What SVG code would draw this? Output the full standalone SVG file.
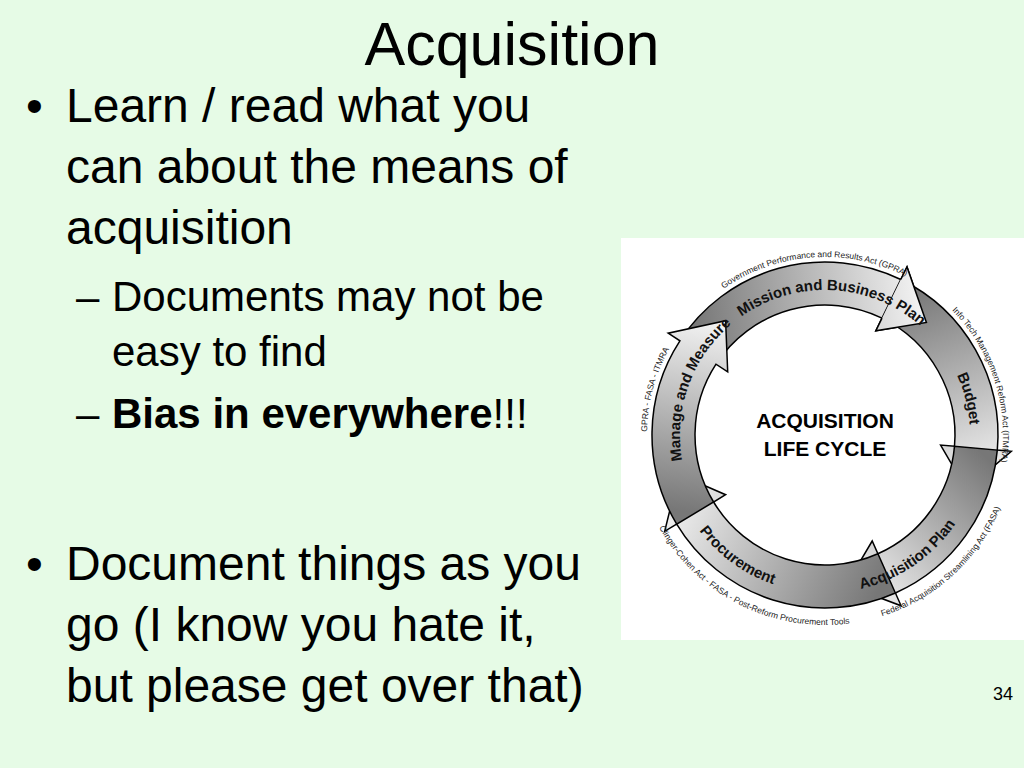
<svg xmlns="http://www.w3.org/2000/svg" xmlns:xlink="http://www.w3.org/1999/xlink" width="1024" height="768" viewBox="0 0 1024 768">
<style>
.t{font-family:"Liberation Sans",Arial,sans-serif;fill:#000}
.arr{stroke:#000;stroke-width:1.5;stroke-linejoin:miter}
.lb{font-family:"Liberation Sans",Arial,sans-serif;font-weight:bold;font-size:15px;fill:#111}
.sm{font-family:"Liberation Sans",Arial,sans-serif;font-size:8.5px;fill:#222}
</style>
<defs>
<linearGradient id="g1" gradientUnits="userSpaceOnUse" x1="697.9" y1="352.5" x2="926.4" y2="322.4"><stop offset="0" stop-color="#777"/><stop offset="1" stop-color="#f4f4f4"/></linearGradient>
<linearGradient id="g2" gradientUnits="userSpaceOnUse" x1="891.4" y1="298.8" x2="966.4" y2="489.3"><stop offset="0" stop-color="#777"/><stop offset="1" stop-color="#f4f4f4"/></linearGradient>
<linearGradient id="g3" gradientUnits="userSpaceOnUse" x1="975.9" y1="448.2" x2="846.1" y2="585"><stop offset="0" stop-color="#777"/><stop offset="1" stop-color="#f4f4f4"/></linearGradient>
<linearGradient id="g4" gradientUnits="userSpaceOnUse" x1="886.6" y1="573.4" x2="678.7" y2="474.2"><stop offset="0" stop-color="#777"/><stop offset="1" stop-color="#f4f4f4"/></linearGradient>
<linearGradient id="g5" gradientUnits="userSpaceOnUse" x1="695.1" y1="513" x2="725.6" y2="320.7"><stop offset="0" stop-color="#777"/><stop offset="1" stop-color="#f4f4f4"/></linearGradient>
<path id="cw145" d="M825,580 A145,145 0 1 1 825,290 A145,145 0 1 1 825,580"/>
<path id="ccw158" d="M667,435 A158,158 0 1 0 983,435 A158,158 0 1 0 667,435"/>
<path id="cw178" d="M825,613 A178,178 0 1 1 825,257 A178,178 0 1 1 825,613"/>
<path id="ccw190" d="M635,435 A190,190 0 1 0 1015,435 A190,190 0 1 0 635,435"/>
</defs>
<rect width="1024" height="768" fill="#e6fbe6"/>
<g id="slide-text">
<text class="t" x="512" y="65" font-size="61" text-anchor="middle">Acquisition</text>
<text class="t" font-size="48"><tspan x="26" y="122">•</tspan><tspan x="66" y="122">Learn / read what you</tspan><tspan x="66" y="183">can about the means of</tspan><tspan x="66" y="244">acquisition</tspan></text>
<text class="t" font-size="42"><tspan x="76" y="311">–</tspan><tspan x="112" y="311">Documents may not be</tspan><tspan x="112" y="366">easy to find</tspan><tspan x="76" y="428">–</tspan><tspan x="112" y="428" font-weight="bold">Bias in everywhere</tspan><tspan>!!!</tspan></text>
<text class="t" font-size="48"><tspan x="26" y="580">•</tspan><tspan x="66" y="580">Document things as you</tspan><tspan x="66" y="641">go (I know you hate it,</tspan><tspan x="66" y="702">but please get over that)</tspan></text>
<text class="t" x="1003" y="700" font-size="18" text-anchor="middle">34</text>
</g>
<g id="cycle">
<rect x="621" y="238" width="403" height="402" fill="#fff"/>
<g id="connectors">
<path class="arr" fill="url(#g1)" d="M679.9,340.8 A173,173 0 0 1 900.8,279.5 L907,266.9 L926.4,322.4 L875.9,330.7 L882,318.2 A130,130 0 0 0 716,364.2 Z"/>
<path class="arr" fill="url(#g2)" d="M900.8,279.5 A173,173 0 0 1 997.3,450.1 L1011.3,451.3 L966.4,489.3 L940.6,445.1 L954.5,446.3 A130,130 0 0 0 882,318.2 Z"/>
<path class="arr" fill="url(#g3)" d="M997.3,450.1 A173,173 0 0 1 895.4,593 L901.1,605.8 L846.1,585 L872.2,541 L877.9,553.8 A130,130 0 0 0 954.5,446.3 Z"/>
<path class="arr" fill="url(#g4)" d="M895.4,593 A173,173 0 0 1 676.7,524.1 L664.7,531.3 L678.7,474.2 L725.6,494.7 L713.6,502 A130,130 0 0 0 877.9,553.8 Z"/>
<path class="arr" fill="url(#g5)" d="M676.7,524.1 A173,173 0 0 1 679.9,340.8 L668.2,333.2 L725.6,320.7 L727.7,371.8 L716,364.2 A130,130 0 0 0 713.6,502 Z"/>
<path fill="url(#g1)" d="M900.8,279.5 L907,266.9 L926.4,322.4 L875.9,330.7 L882,318.2 Z"/>
<path class="arr" fill="none" d="M900.8,279.5 L907,266.9 L926.4,322.4 L875.9,330.7 L882,318.2"/>
</g>
<g id="labels">
<text class="lb"><textPath href="#cw145" xlink:href="#cw145" startOffset="463" text-anchor="middle">Mission and Business Plan</textPath></text>
<text class="lb"><textPath href="#cw145" xlink:href="#cw145" startOffset="647" text-anchor="middle">Budget</textPath></text>
<text class="lb"><textPath href="#cw145" xlink:href="#cw145" startOffset="278" text-anchor="middle">Manage and Measure</textPath></text>
<text class="lb"><textPath href="#ccw158" xlink:href="#ccw158" startOffset="343" text-anchor="middle">Acquisition Plan</textPath></text>
<text class="lb"><textPath href="#ccw158" xlink:href="#ccw158" startOffset="149" text-anchor="middle">Procurement</textPath></text>
<text class="sm"><textPath href="#cw178" xlink:href="#cw178" startOffset="547" text-anchor="middle">Government Performance and Results Act (GPRA)</textPath></text>
<text class="sm"><textPath href="#cw178" xlink:href="#cw178" startOffset="783" text-anchor="middle">Info Tech Management Reform Act (ITMRA)</textPath></text>
<text class="sm"><textPath href="#cw178" xlink:href="#cw178" startOffset="326" text-anchor="middle">GPRA - FASA - ITMRA</textPath></text>
<text class="sm"><textPath href="#ccw190" xlink:href="#ccw190" startOffset="439" text-anchor="middle">Federal Acquisition Streamlining Act (FASA)</textPath></text>
<text class="sm"><textPath href="#ccw190" xlink:href="#ccw190" startOffset="210" text-anchor="middle">Clinger-Cohen Act - FASA - Post-Reform Procurement Tools</textPath></text>
<text class="t" font-size="21" font-weight="bold" text-anchor="middle"><tspan x="825" y="428">ACQUISITION</tspan><tspan x="825" y="456">LIFE CYCLE</tspan></text>
</g>
</g>
</svg>
